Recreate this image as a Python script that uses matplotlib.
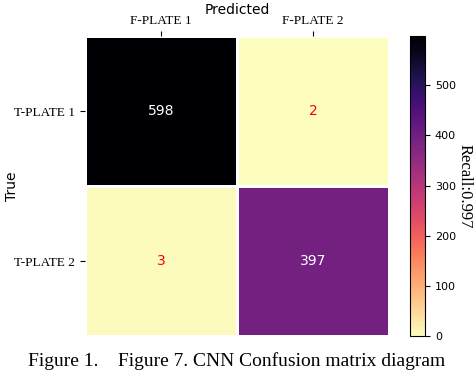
import numpy as np
import matplotlib
matplotlib.use('Agg')
import matplotlib.pyplot as plt
from matplotlib.colors import Normalize

true_labels = ['T-PLATE 1', 'T-PLATE 2']
pred_labels = ['F-PLATE 1', 'F-PLATE 2']
counts = np.array([[598, 2],
                   [3, 397]])
recall_text = 'Recall:0.997'

fig = plt.figure(figsize=(4.74, 3.76), dpi=100)
ax = fig.add_axes([0.179, 0.106, 0.642, 0.798])
cax = fig.add_axes([0.865, 0.106, 0.032, 0.798])

norm = Normalize(vmin=0, vmax=counts.max())
im = ax.pcolormesh(counts, cmap='magma_r', norm=norm, edgecolors='white', linewidth=1.0)
ax.set_xlim(0, 2)
ax.set_ylim(2, 0)
for s in ax.spines.values():
    s.set_visible(False)

serif = 'Liberation Serif'
ax.xaxis.tick_top()
ax.xaxis.set_label_position('top')
ax.set_xticks(np.arange(2) + 0.5)
ax.set_xticklabels(pred_labels, family=serif, fontsize=9.5)
ax.set_yticks(np.arange(2) + 0.5)
ax.set_yticklabels(true_labels, family=serif, fontsize=9.5)
ax.tick_params(axis='x', pad=3)
ax.set_xlabel('Predicted', fontsize=10, labelpad=1)
ax.set_ylabel('True', fontsize=10)
ax.yaxis.set_label_coords(-0.215, 0.5)

for i in range(2):
    for j in range(2):
        color = 'white' if i == j else 'red'
        ax.text(j + 0.5, i + 0.5, str(counts[i, j]), ha='center', va='center',
                color=color, fontsize=10)

cb = fig.colorbar(im, cax=cax)
cb.set_ticks([0, 100, 200, 300, 400, 500])
cb.ax.tick_params(labelsize=8)
cb.outline.set_linewidth(0.8)
cb.set_label(recall_text, family=serif, fontsize=12, rotation=270, labelpad=12)

fig.text(0.5, 0.04, 'Figure 1.    Figure 7. CNN Confusion matrix diagram',
         family=serif, fontsize=14, ha='center', va='center')

fig.savefig('out.png', dpi=100)
